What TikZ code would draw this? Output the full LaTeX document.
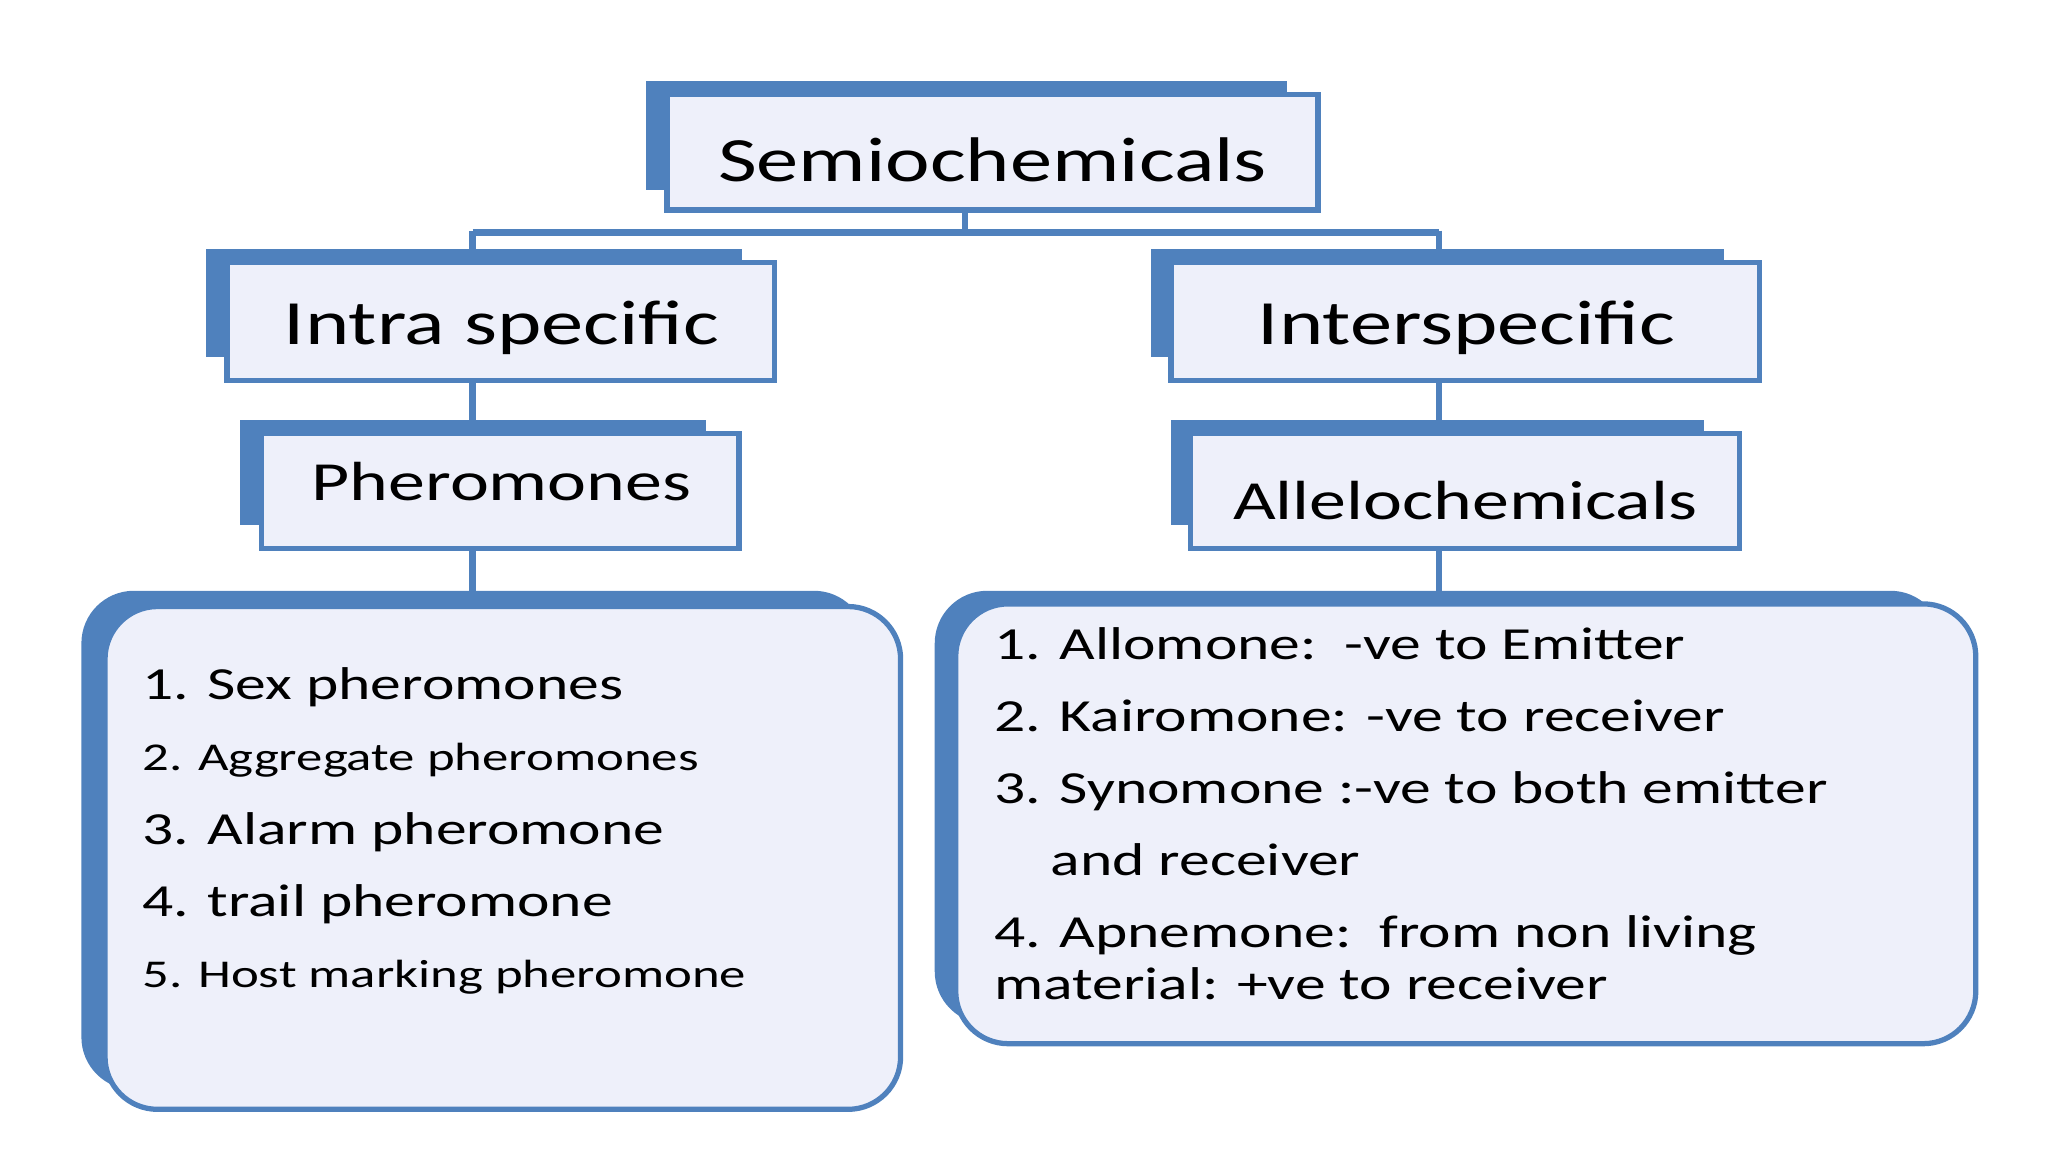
\documentclass[tikz,border=0pt]{standalone}
\usepackage{fontspec}
\setmainfont{Carlito}[FakeStretch=1.34]
\definecolor{bl}{RGB}{79,129,189}
\definecolor{lav}{RGB}{238,240,250}
\begin{document}
\begin{tikzpicture}[x=0.5pt,y=-0.5pt,
  box/.style={draw=bl,line width=2pt,fill=lav,inner sep=0pt},
  sh/.style={fill=bl},
  con/.style={draw=bl,line width=2.5pt},
  it/.style={anchor=base west,inner sep=0pt,font=\fontsize{17.5}{20}\selectfont}]
\useasboundingbox (0,0) rectangle (1560,878);
% shadows
\fill[sh] (492,62) rectangle (980,145);
\fill[sh] (157,190) rectangle (565,272);
\fill[sh] (877,190) rectangle (1313,272);
\fill[sh] (183,320) rectangle (538,400);
\fill[sh] (892,320) rectangle (1298,400);
\fill[sh,rounded corners=20pt] (62,450) rectangle (660,830);
\fill[sh,rounded corners=20pt] (712,450) rectangle (1480,780);
% boxes
\node[box,minimum width=248pt,minimum height=44pt] (semi) at (756,116) {};
\node[box,minimum width=208.5pt,minimum height=45pt] (intra) at (381.5,245) {};
\node[box,minimum width=224pt,minimum height=45pt] (inter) at (1116,245) {};
\node[box,minimum width=182pt,minimum height=44pt] (pher) at (381,374) {};
\node[box,minimum width=209pt,minimum height=44pt] (alle) at (1116,374) {};
\node[box,rounded corners=20pt,minimum width=303pt,minimum height=191.5pt] (llist) at (383,653.5) {};
\node[box,rounded corners=20pt,minimum width=388.5pt,minimum height=167.5pt] (rlist) at (1116.5,627.5) {};
% labels
\node[font=\fontsize{24}{28}\selectfont] (tsemi) at (756,122) {Semiochemicals};
\node[font=\fontsize{24}{28}\selectfont] (tintra) at (382,250) {Intra specific};
\node[font=\fontsize{24}{28}\selectfont] (tinter) at (1117,250) {Interspecific};
\node[font=\fontsize{21}{24}\selectfont] (tpher) at (382,367) {Pheromones};
\node[font=\fontsize{21}{24}\selectfont] (talle) at (1116,381) {Allelochemicals};
% connectors
\coordinate (j) at (735,177);
\draw[con] (semi.south -| j) -- (j);
\draw[con] (360,177) -- (1096,177);
\draw[con] (360,175.7) -- (intra.north -| 360,0);
\draw[con] (1096,175.7) -- (inter.north -| 1096,0);
\draw[con] (intra.south -| 360,0) -- (pher.north -| 360,0);
\draw[con] (pher.south -| 360,0) -- (llist.north -| 360,0);
\draw[con] (inter.south -| 1096,0) -- (alle.north -| 1096,0);
\draw[con] (alle.south -| 1096,0) -- (rlist.north -| 1096,0);
% left list
\node[it] (l1) at (108,533) {1. Sex pheromones};
\node[it,font=\fontsize{15}{18}\selectfont] (l2) at (108,587) {2. Aggregate pheromones};
\node[it] (l3) at (108,643) {3. Alarm pheromone};
\node[it] (l4) at (108,698) {4. trail pheromone};
\node[it,font=\fontsize{15}{18}\selectfont] (l5) at (108,752) {5. Host marking pheromone};
% right list
\node[it] (r1) at (757,502) {1. Allomone:\ \ -ve to Emitter};
\node[it] (r2) at (757,557) {2. Kairomone: -ve to receiver};
\node[it] (r3) at (757,612) {3. Synomone :-ve to both emitter};
\node[it] (r3b) at (800,667) {and receiver};
\node[it] (r4) at (757,722) {4. Apnemone:\ \ from non living};
\node[it] (r4b) at (757,761) {material: +ve to receiver};
\end{tikzpicture}
\end{document}
